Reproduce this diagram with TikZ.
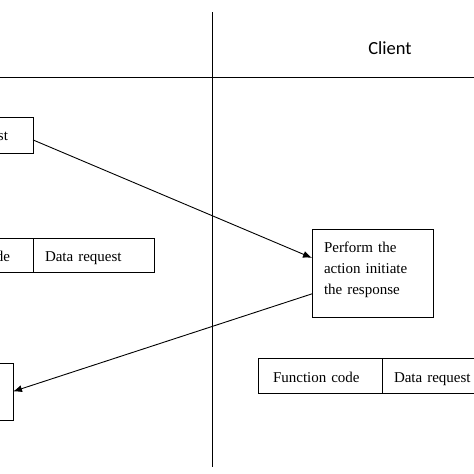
\documentclass[tikz,border=0pt]{standalone}
\usepackage{fontspec}
\setmainfont{Liberation Serif}
\newfontfamily\clientfont{Carlito}
\usetikzlibrary{positioning,arrows.meta}

\begin{document}
\begin{tikzpicture}[x=1pt,y=-1pt,line width=0.9pt,
    font=\fontsize{15}{21}\selectfont,
    box/.style={rectangle, draw, inner sep=0pt, outer sep=0pt},
    cell/.style={box, text height=13pt, text depth=0pt},
    msg/.style={-{Latex[length=9pt,width=7pt]}}
    ]
    \useasboundingbox (0,0) rectangle (474,474);
    \clip (0,0) rectangle (474,474);

    % lanes
    \draw (212,12) -- (212,467);
    \draw (0,77) -- (474,77);
    \node[font={\clientfont\fontsize{18.5}{22}\selectfont}, anchor=base] (client) at (390,54) {Client};

    % left side
    \node[box, minimum width=80pt, minimum height=36pt, text width=30pt, inner xsep=25pt,
      align=right, text height=10pt, text depth=0pt] (sendbox) at (-7,135) {st};
    \node[cell, minimum width=93pt, minimum height=34pt, text width=47pt, inner xsep=23pt,
      align=right] (midcode) at (-13.5,255) {de};
    \node[cell, minimum width=121pt, minimum height=34pt, text width=97pt, inner xsep=12pt,
      align=left, right=0pt of midcode] (middata) {Data request};
    \node[box, minimum width=73pt, minimum height=57pt] (recvbox) at (-23.5,391.5) {};

    % right side
    \node[box, minimum width=121pt, minimum height=88pt, text width=97pt, inner xsep=12pt,
      align=left, text height=10.5pt, text depth=52pt] (perform) at (372.5,273) {Perform the\\action initiate\\the response};
    \node[cell, minimum width=124pt, minimum height=35pt, text width=94pt, inner xsep=15pt,
      align=left] (rcode) at (320,375.5) {Function code};
    \node[cell, minimum width=148pt, minimum height=35pt, text width=124pt, inner xsep=12pt,
      align=left, right=0pt of rcode] (rdata) {Data request};

    \draw[msg] (sendbox.353) -- (perform.166);
    \draw[msg] (perform.199) -- (recvbox.east);
\end{tikzpicture}
\end{document}
